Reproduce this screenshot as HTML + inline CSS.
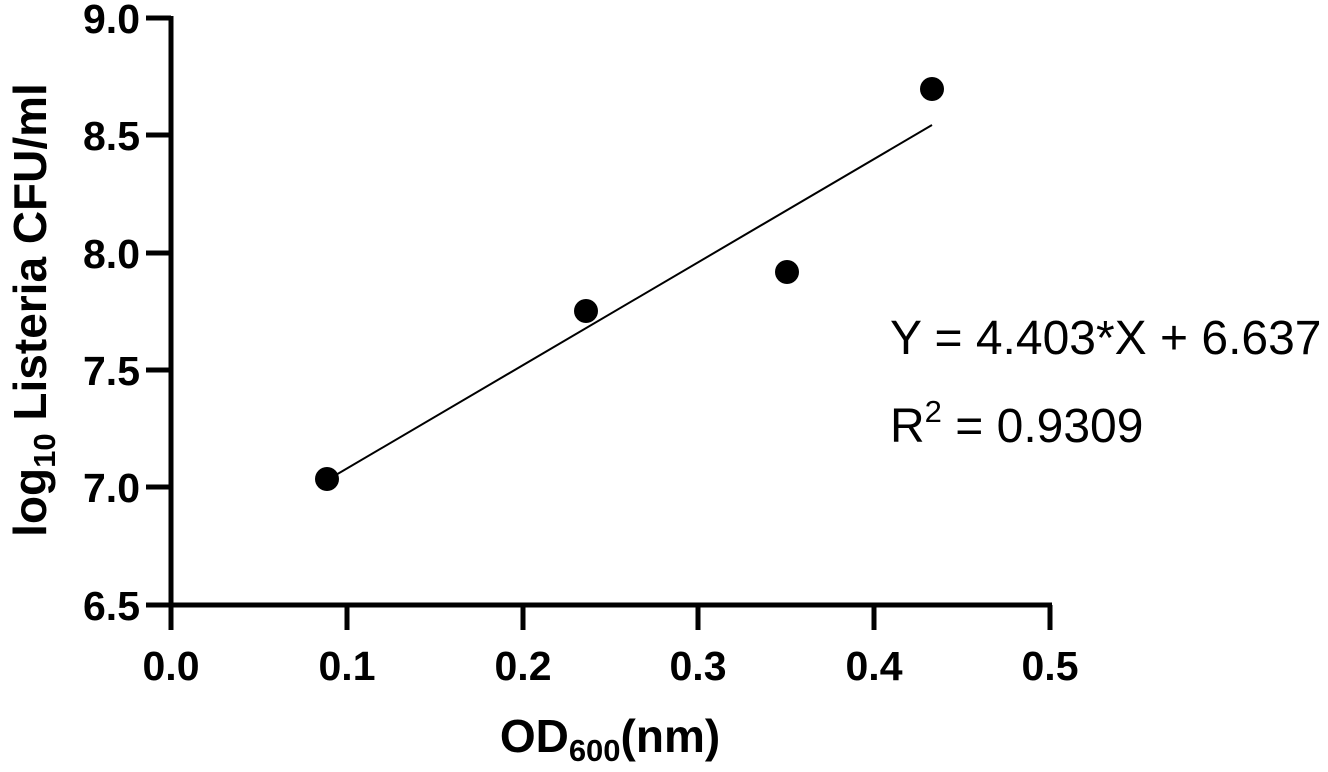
<!DOCTYPE html>
<html><head><style>body{margin:0;background:#fff}</style></head><body>
<svg width="1328" height="767" xmlns="http://www.w3.org/2000/svg" font-family="'Liberation Sans', sans-serif">
<g stroke="#000" stroke-width="5" fill="none">
<line x1="171" y1="16" x2="171" y2="607"/>
<line x1="168" y1="605" x2="1052" y2="605"/>
<line x1="146" y1="18" x2="171" y2="18"/>
<line x1="146" y1="135" x2="171" y2="135"/>
<line x1="146" y1="253" x2="171" y2="253"/>
<line x1="146" y1="370" x2="171" y2="370"/>
<line x1="146" y1="487" x2="171" y2="487"/>
<line x1="146" y1="605" x2="171" y2="605"/>
<line x1="171" y1="605" x2="171" y2="630"/>
<line x1="347" y1="605" x2="347" y2="630"/>
<line x1="523" y1="605" x2="523" y2="630"/>
<line x1="698" y1="605" x2="698" y2="630"/>
<line x1="874" y1="605" x2="874" y2="630"/>
<line x1="1050" y1="605" x2="1050" y2="630"/>
<line x1="329" y1="479" x2="932" y2="125" stroke-width="2"/>
</g>
<g fill="#000">
<circle cx="327" cy="479" r="12"/>
<circle cx="586" cy="311" r="12"/>
<circle cx="787" cy="272" r="12"/>
<circle cx="932" cy="89" r="12"/>
</g>
<g font-weight="bold" font-size="41" text-anchor="end">
<text x="140" y="33">9.0</text>
<text x="140" y="150">8.5</text>
<text x="140" y="268">8.0</text>
<text x="140" y="385">7.5</text>
<text x="140" y="502">7.0</text>
<text x="140" y="620">6.5</text>
</g>
<g font-weight="bold" font-size="41" text-anchor="middle">
<text x="171" y="680">0.0</text>
<text x="347" y="680">0.1</text>
<text x="523" y="680">0.2</text>
<text x="698" y="680">0.3</text>
<text x="874" y="680">0.4</text>
<text x="1050" y="680">0.5</text>
</g>
<text x="610" y="752" font-weight="bold" font-size="46" text-anchor="middle">OD<tspan font-size="31" dy="9">600</tspan><tspan dy="-9">(nm)</tspan></text>
<text transform="translate(46,310) rotate(-90)" font-weight="bold" font-size="46" text-anchor="middle">log<tspan font-size="31" dy="9">10</tspan><tspan dy="-9"> Listeria CFU/ml</tspan></text>
<text x="890" y="354" font-size="48">Y = 4.403*X + 6.637</text>
<text x="890" y="442" font-size="48">R<tspan font-size="31" dy="-20">2</tspan><tspan dy="20"> = 0.9309</tspan></text>
</svg>
</body></html>
